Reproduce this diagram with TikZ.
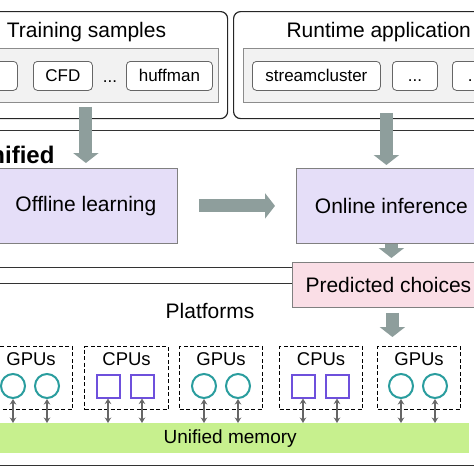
\documentclass[tikz,border=0pt]{standalone}
\usepackage{fontspec}
\setmainfont{Liberation Sans}
\usetikzlibrary{arrows.meta, positioning, calc}

\definecolor{lavender}{RGB}{229,222,248}
\definecolor{blush}{RGB}{250,222,230}
\definecolor{memgreen}{RGB}{199,240,142}
\definecolor{tealc}{RGB}{42,157,158}
\definecolor{violetc}{RGB}{110,80,220}
\definecolor{flowgray}{RGB}{142,158,156}

\newcommand{\titlefont}{\fontsize{21}{25}\selectfont}
\newcommand{\itemfont}{\fontsize{17}{20}\selectfont}
\newcommand{\unitfont}{\fontsize{18.5}{21}\selectfont}
\newcommand{\headfont}{\fontsize{24}{28}\selectfont\bfseries}
\newcommand{\memfont}{\fontsize{19}{22}\selectfont}

\tikzstyle{panel} = [draw=black!85, line width=1.2pt, rounded corners=7pt, anchor=north west, inner sep=0pt]
\tikzstyle{tray} = [draw=black!45, fill=black!5, line width=0.8pt, anchor=north west, inner sep=0pt, minimum height=54pt]
\tikzstyle{item} = [draw=black!60, fill=white, line width=0.8pt, rounded corners=4pt, minimum height=29pt, anchor=north west, inner sep=0pt, text height=12pt, text depth=0pt, font=\itemfont]
\tikzstyle{stage} = [draw=black!50, fill=lavender, line width=0.8pt, minimum height=75pt, anchor=north west, inner sep=0pt, font=\titlefont]
\tikzstyle{choice} = [stage, fill=blush, minimum height=45pt]
\tikzstyle{frame} = [draw=black!80, line width=1.2pt, anchor=north west, inner sep=0pt]
\tikzstyle{group} = [draw, line width=1.1pt, dash pattern=on 4pt off 2.5pt, minimum height=63pt, anchor=north west, inner sep=0pt]
\tikzstyle{gpu} = [draw=tealc, circle, line width=2pt, minimum size=24pt, inner sep=0pt]
\tikzstyle{cpu} = [draw=violetc, line width=2pt, minimum size=23pt, inner sep=0pt]
\tikzstyle{unit} = [anchor=base, font=\unitfont]
\tikzstyle{flow} = [draw=flowgray, line width=13pt, -{Triangle[length=10pt,width=25pt]}]
\tikzstyle{bus} = [draw=black!60, line width=1.3pt, {Stealth[length=5.5pt,width=6.5pt]}-{Stealth[length=5.5pt,width=6.5pt]}]

\begin{document}
\begin{tikzpicture}[x=1pt, y=-1pt]
\useasboundingbox (0,0) rectangle (474,474);

% outer frames
\node [frame, minimum width=494pt, minimum height=137pt] (uframe) at (-10,130) {};
\node [frame, minimum width=494pt, minimum height=182pt] (pframe) at (-10,283) {};

% inputs
\node [panel, minimum width=247pt, minimum height=107pt] (tspanel) at (-20,11) {};
\node [anchor=base, font=\titlefont] (tstitle) at (86.5,37) {Training samples};
\node [tray, minimum width=250pt] (tstray) at (-32,48) {};
\node [item, minimum width=50pt] (tsfirst) at (-33,61) {};
\node [item, minimum width=59pt] (cfd) at (33,61) {CFD};
\node [anchor=base, font=\itemfont] (tsdots) at (110,82) {...};
\node [item, minimum width=86pt] (huffman) at (126,61) {huffman};

\node [panel, minimum width=260pt, minimum height=107pt] (rtpanel) at (233,11) {};
\node [anchor=base west, font=\titlefont] (rttitle) at (283,37) {Runtime application};
\node [tray, minimum width=260pt] (rttray) at (243,48) {};
\node [item, minimum width=128pt] (stream) at (252,61) {streamcluster};
\node [item, minimum width=45pt] (rtdots) at (392,61) {...};
\node [item, minimum width=45pt] (rtmore) at (452,61) {...};

% unified learning part
\node [anchor=base east, font=\headfont] (utitle) at (58,163) {Unified};
\node [stage, minimum width=183pt] (offline) at (-6,168) {Offline learning};
\node [stage, minimum width=190pt] (online) at (296,168) {Online inference};
\node [choice, minimum width=192pt] (choice) at (292,262) {Predicted choices};

% platforms
\node [anchor=base, font=\titlefont] (ptitle) at (210,318) {Platforms};
\node [group, minimum width=83pt] (g1) at (-11,346) {};
\node [group, minimum width=84pt] (g2) at (84,346) {};
\node [group, minimum width=83pt] (g3) at (179,346) {};
\node [group, minimum width=83pt] (g4) at (279,346) {};
\node [group, minimum width=83pt] (g5) at (377,346) {};
\node [unit] (g1lab) at ([yshift=-19pt]g1.north) {GPUs};
\node [unit] (g2lab) at ([yshift=-19pt]g2.north) {CPUs};
\node [unit] (g3lab) at ([yshift=-19pt]g3.north) {GPUs};
\node [unit] (g4lab) at ([yshift=-19pt]g4.north) {CPUs};
\node [unit] (g5lab) at ([yshift=-19pt]g5.north) {GPUs};

\node [gpu] (g1a) at (13,386) {};
\node [gpu] (g1b) at (47,386) {};
\node [cpu] (c2a) at (108,386) {};
\node [cpu] (c2b) at (142,386) {};
\node [gpu] (g3a) at (204,386) {};
\node [gpu] (g3b) at (238,386) {};
\node [cpu] (c4a) at (303,386) {};
\node [cpu] (c4b) at (337,386) {};
\node [gpu] (g5a) at (401,386) {};
\node [gpu] (g5b) at (435,386) {};

\node [fill=memgreen, minimum width=478pt, minimum height=30pt, anchor=north west, inner sep=0pt, font=\memfont] (mem) at (-9,423) {Unified memory};

\draw [bus] (g1a.south) -- (g1a.south |- mem.north);
\draw [bus] (g1b.south) -- (g1b.south |- mem.north);
\draw [bus] (c2a.south) -- (c2a.south |- mem.north);
\draw [bus] (c2b.south) -- (c2b.south |- mem.north);
\draw [bus] (g3a.south) -- (g3a.south |- mem.north);
\draw [bus] (g3b.south) -- (g3b.south |- mem.north);
\draw [bus] (c4a.south) -- (c4a.south |- mem.north);
\draw [bus] (c4b.south) -- (c4b.south |- mem.north);
\draw [bus] (g5a.south) -- (g5a.south |- mem.north);
\draw [bus] (g5b.south) -- (g5b.south |- mem.north);

% flow arrows
\draw [flow] ($(offline.north |- tstray.south) + (0,4)$) -- ($(offline.north) + (0,-5)$);
\draw [flow] ($(online.north |- rttray.south) + (-5,10)$) -- ($(online.north) + (-5,-3)$);
\draw [flow] ($(offline.east) + (21,0)$) -- ($(online.west) + (-21,0)$);
\draw [flow] (online.south) -- ($(choice.north -| online.south) + (0,-4)$);
\draw [flow] ($(choice.south) + (4,5)$) -- ($(choice.south |- g5.north) + (4,-9)$);

\end{tikzpicture}
\end{document}
